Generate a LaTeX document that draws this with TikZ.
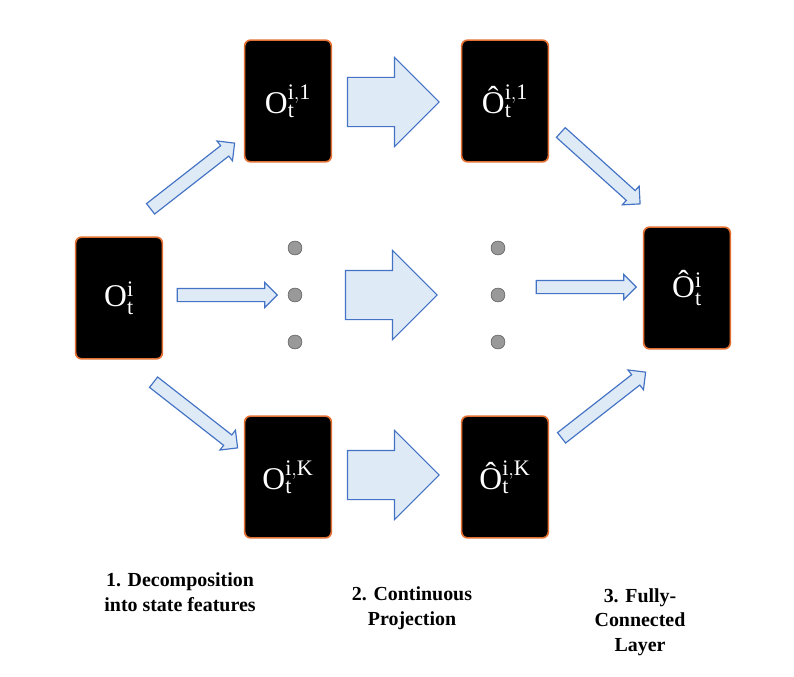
\documentclass[tikz,border=0pt]{standalone}
\usepackage{fontspec}
\setmainfont{Liberation Serif}
\usetikzlibrary{shapes.arrows,calc}
\definecolor{edge}{RGB}{226,112,50}
\definecolor{arrline}{RGB}{68,114,196}
\definecolor{arrfill}{RGB}{222,235,247}
\begin{document}
\begin{tikzpicture}[x=0.03cm,y=-0.03cm,
  box/.style={draw=edge,line width=1.4pt,fill=black,rounded corners=5pt,
    minimum width=2.6cm,minimum height=3.65cm,text=white,font=\fontsize{27}{30}\selectfont},
  thin/.style={single arrow,draw=arrline,fill=arrfill,line width=1pt,
    inner xsep=0pt,inner ysep=0.18cm,single arrow head extend=0.18cm,minimum height=#1},
  big/.style={single arrow,draw=arrline,fill=arrfill,line width=1pt,
    inner xsep=0pt,inner ysep=0.72cm,single arrow head extend=0.6cm,minimum height=2.75cm},
  dot/.style={circle,draw=black!70,fill=black!40,minimum size=0.42cm,inner sep=0pt},
  lab/.style={font=\bfseries\fontsize{17}{21}\selectfont,align=center}]
\useasboundingbox (0,0) rectangle (794,676);
\node[box] (a) at (119,298) {O$_{\mathrm{t}}^{\mathrm{i}}$};
\node[box] (b1) at (288,101) {O$_{\mathrm{t}}^{\mathrm{i,1}}$};
\node[box] (c1) at (505,101) {Ô$_{\mathrm{t}}^{\mathrm{i,1}}$};
\node[box] (bk) at (288,477) {O$_{\mathrm{t}}^{\mathrm{i,K}}$};
\node[box] (ck) at (505,477) {Ô$_{\mathrm{t}}^{\mathrm{i,K}}$};
\node[box] (d) at (687,288) {Ô$_{\mathrm{t}}^{\mathrm{i}}$};
\foreach \x/\n in {295/p,498/q}{
  \node[dot] (\n1) at (\x,248) {};
  \node[dot] (\n2) at (\x,295) {};
  \node[dot] (\n3) at (\x,342) {};}
\node[big] (u1) at (381,102) {};
\node[big] (u2) at (379,295) {};
\node[big] (u3) at (381,475) {};
\node[thin=3.2cm,rotate=38] (t1) at (190,178) {};
\node[thin=3.0cm] (t2) at (224,295) {};
\node[thin=3.2cm,rotate=-38] (t3) at (193,413) {};
\node[thin=3.2cm,rotate=-42] (t4) at (598,166) {};
\node[thin=3.0cm] (t5) at (583,287) {};
\node[thin=3.2cm,rotate=38] (t6) at (601,407) {};
\node[lab] (l1) at (180,592) {1. Decomposition\\into state features};
\node[lab] (l2) at (412,608) {2. Continuous\\Projection};
\node[lab] (l3) at (640,622) {3. Fully-\\Connected\\Layer};
\end{tikzpicture}
\end{document}
